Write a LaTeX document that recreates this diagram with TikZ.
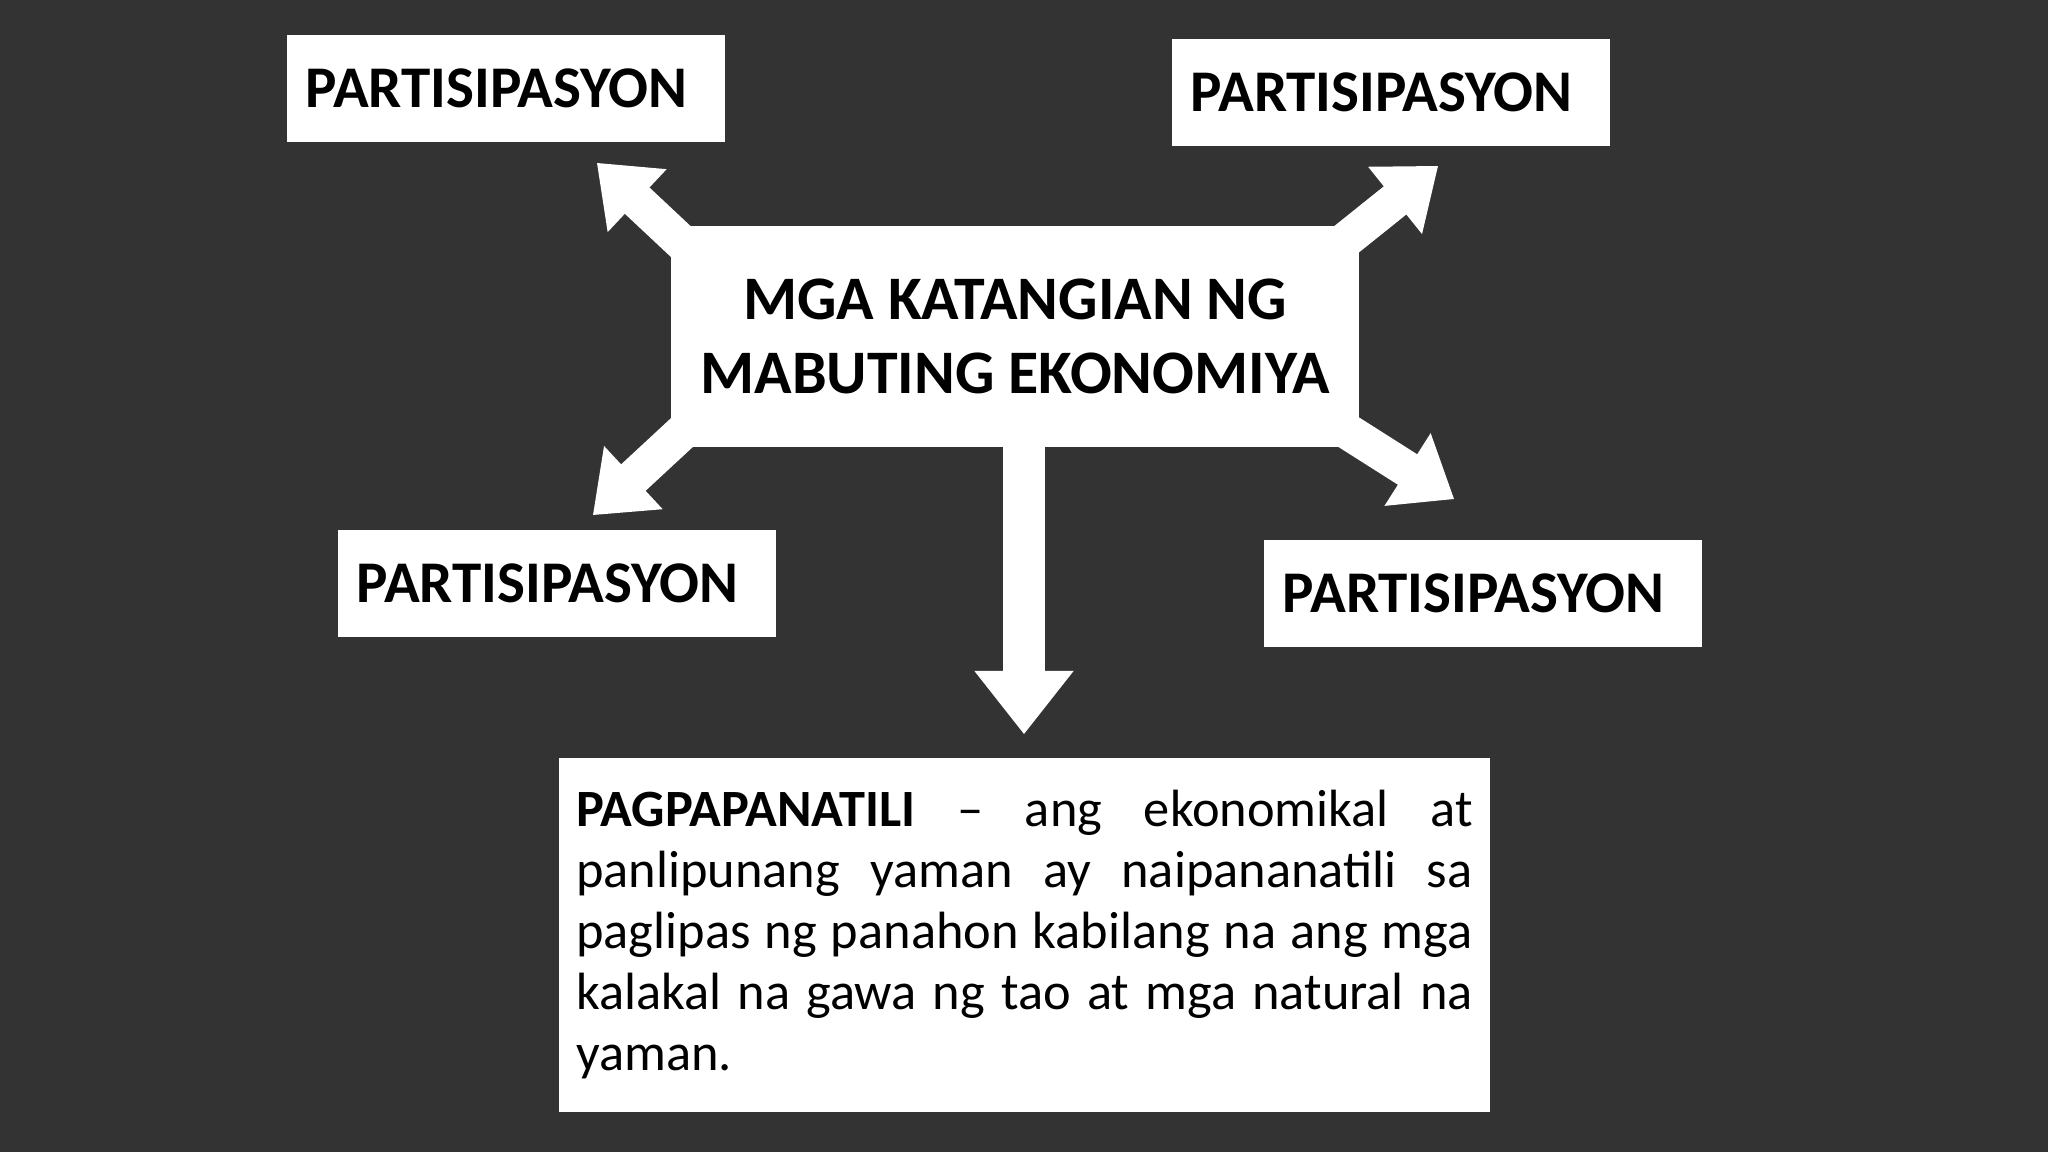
\documentclass[tikz,border=0pt]{standalone}
\usepackage{fontspec}
\setmainfont{Carlito}
\usetikzlibrary{arrows.meta,calc}
\definecolor{slate}{RGB}{51,51,51}
\begin{document}
\begin{tikzpicture}[x=0.01cm,y=-0.01cm,
    box/.style={fill=white,anchor=north west,text width=4cm,inner xsep=0.19cm,inner ysep=0pt,minimum height=1.07cm,align=left,font=\bfseries\fontsize{16.8}{20}\selectfont},
    bigarrow/.style={white,line width=0.36cm,-{Triangle[width=0.85cm,length=0.55cm,line width=1.5pt]}}]
                \fill[slate] (0,0) rectangle (2048,1152);
                \node[fill=white,minimum width=6.88cm,minimum height=2.21cm,inner sep=0pt,align=center,font=\bfseries\fontsize{17.6}{20.8}\selectfont] (K) at (1015,336.5) {MGA KATANGIAN NG\\MABUTING EKONOMIYA};
                \node[box] (A) at (286,34) {PARTISIPASYON};
                \node[box] (B) at (1171,38) {PARTISIPASYON};
                \node[box] (C) at (337,529) {PARTISIPASYON};
                \node[box] (D) at (1263,539) {PARTISIPASYON};
                \node[fill=white,anchor=north west,text width=8.96cm,inner xsep=0.175cm,inner ysep=0pt,minimum height=3.54cm,align=justify,font=\fontsize{14.9}{17.35}\selectfont] (P) at (558,757) {\textbf{PAGPAPANATILI} -- ang ekonomikal at\linebreak panlipunang yaman ay naipananatili sa\linebreak paglipas ng panahon kabilang na ang mga\linebreak kalakal na gawa ng tao at mga natural na\linebreak yaman.};
                \coordinate (tl) at (597,163);
                \coordinate (tr) at (1438,166);
                \coordinate (bl) at (593,515);
                \coordinate (br) at (1454,499);
                \coordinate (dn) at (1024,734);
                \draw [bigarrow] ($(K.north west)+(21,26)$) -- (tl);
                \draw [bigarrow] ($(K.north east)+(-22,21)$) -- (tr);
                \draw [bigarrow] ($(K.south west)+(17,-20)$) -- (bl);
                \draw [bigarrow] ($(K.south east)+(-15,-18)$) -- (br);
                \draw [white,line width=0.42cm,-{Triangle[width=0.98cm,length=0.63cm,line width=1.5pt]}] ($(K.south)+(9,-10)$) -- (dn);
\end{tikzpicture}
\end{document}
